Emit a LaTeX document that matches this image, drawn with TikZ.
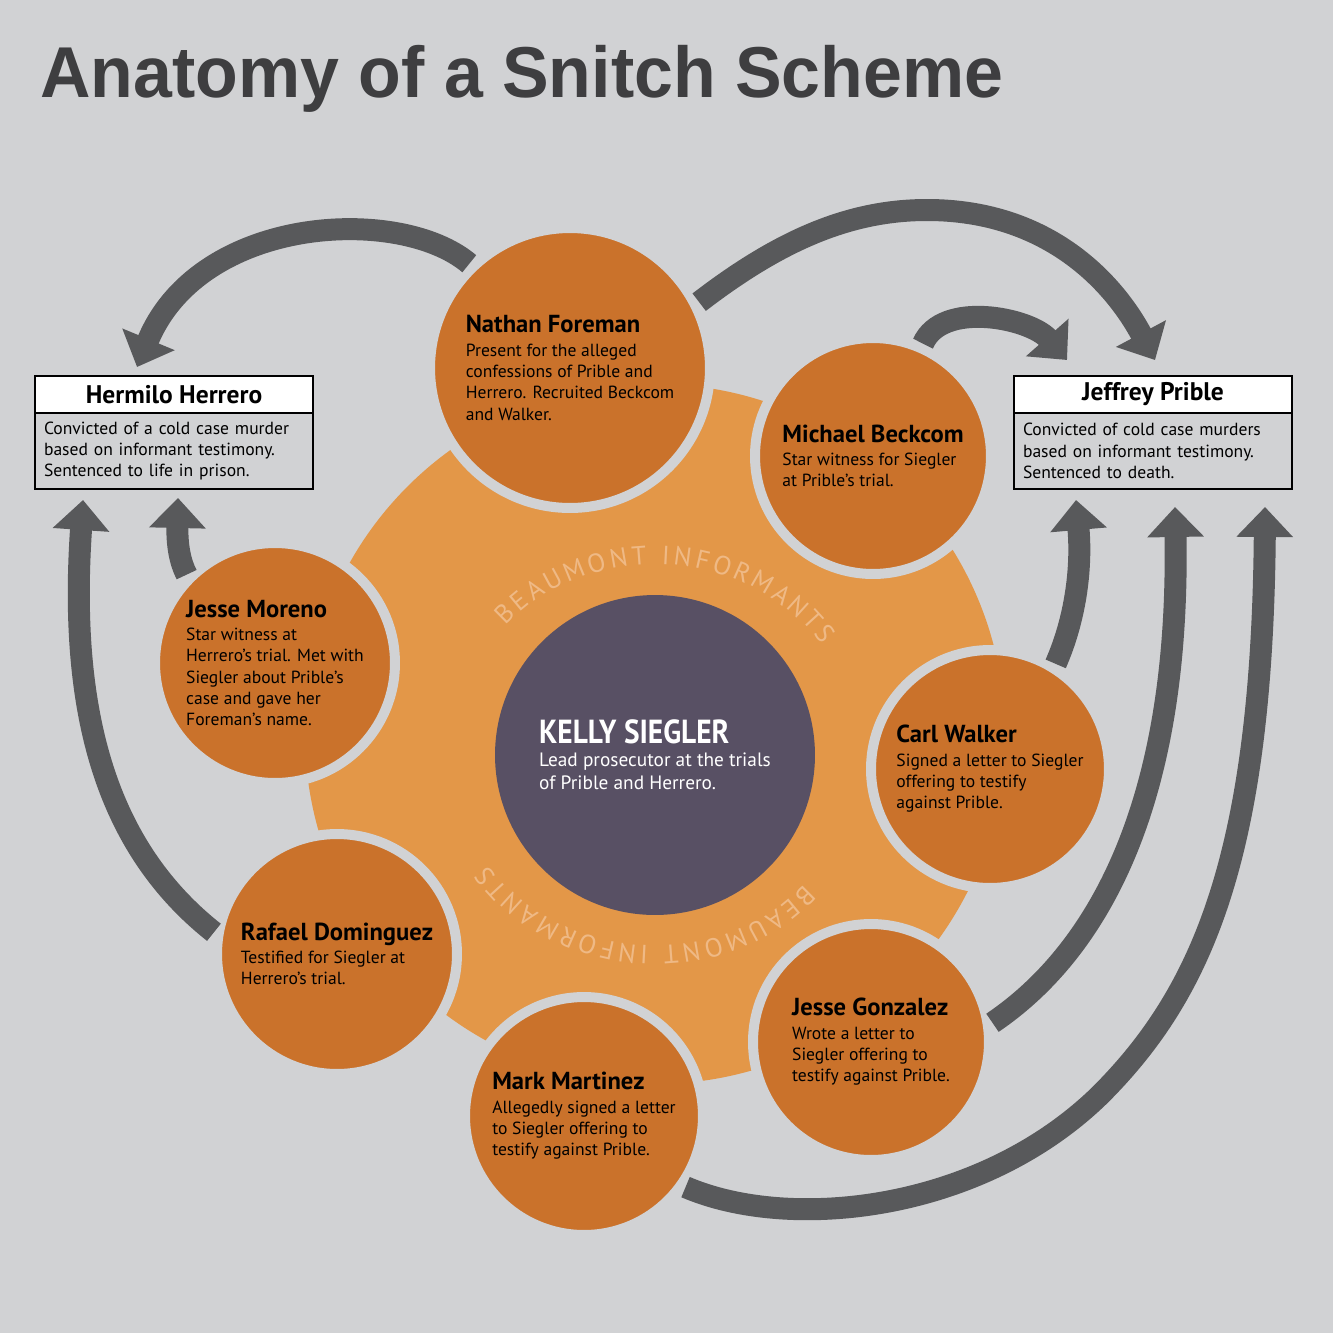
\documentclass[tikz,border=0pt]{standalone}
\usepackage{fontspec}
\setmainfont{PT Sans}
\newfontfamily\titlefont{Liberation Sans}
\usetikzlibrary{positioning,calc,arrows.meta}

\definecolor{paper}{HTML}{D1D2D4}
\definecolor{snitch}{HTML}{CA722B}
\definecolor{beaumont}{HTML}{E39748}
\definecolor{band}{HTML}{58595B}
\definecolor{kelly}{HTML}{585064}
\definecolor{titlegray}{HTML}{3E3E40}
\definecolor{ringtext}{HTML}{EFB985}

\newcommand{\bodysize}{\fontsize{10}{12.2}\selectfont}
\newcommand{\namesize}{\fontsize{14}{15}\selectfont\bfseries}
\newcommand{\who}[1]{{\namesize #1}\\[1pt]}

\begin{document}
\begin{tikzpicture}[x=0.02cm,y=-0.02cm,
  informant/.style={circle,fill=snitch,draw=paper,line width=0.2cm,inner sep=0pt,
    align=left,text=black,font=\bodysize},
  link/.style={draw=band,line width=0.44cm,-{Triangle[width=1.1cm,length=0.6cm]}},
  headbox/.style={draw=black,line width=0.03cm,fill=white,minimum width=5.56cm,
    minimum height=0.74cm,inner sep=0pt,outer sep=0pt,font=\fontsize{14.5}{15}\selectfont\bfseries},
  infobox/.style={draw=black,line width=0.03cm,minimum width=5.56cm,minimum height=1.52cm,
    text width=5.2cm,align=left,inner xsep=0.18cm,inner ysep=0pt,outer sep=0pt,font=\bodysize},
  ring/.style={text=ringtext,font=\fontsize{15}{15}\selectfont,inner sep=0pt}]

\fill[paper] (0,0) rectangle (1333,1333);

\node[anchor=base west,inner sep=0pt,text=titlegray,font=\titlefont\bfseries\fontsize{41}{41}\selectfont]
  (title) at (40,97) {\scalebox{0.97}[1]{Anatomy of a Snitch Scheme}};

\fill[beaumont] (655,734) circle[radius=350];

\node[circle,fill=kelly,minimum size=6.4cm,inner sep=0pt,align=left,text=white,
  font=\fontsize{11}{13}\selectfont] (siegler) at (655,755)
  {{\fontsize{19}{20}\selectfont\bfseries\scalebox{0.88}[1]{KELLY SIEGLER}}\\Lead prosecutor at the trials\\of Prible and Herrero.};

% beaumont informants, twice round the circle
\begin{scope}[shift={(655,755)}]
\foreach \s in {0,180}
  \foreach \ch/\a in {B/0,E/5.2,A/10.5,U/16.2,M/22.5,O/28.9,N/35.0,T/40.5,I/47.7,N/52.3,
      F/57.7,O/63.2,R/68.9,M/75.0,A/81.2,N/87.0,T/92.4,S/97.5} {
    \pgfmathsetmacro\ang{134.8-\a+\s}
    \pgfmathsetmacro\nang{-\ang}
    \node[ring,rotate=\ang-90] at (\nang:214 and 200) {\ch};
  }
\end{scope}

\node[informant,minimum size=5.6cm]  (foreman)   at (570,368)
  {\who{Nathan Foreman}Present for the alleged\\confessions of Prible and\\Herrero. Recruited Beckcom\\and Walker.};
\node[informant,minimum size=4.72cm] (beckcom)   at (873,456)
  {\who{Michael Beckcom}Star witness for Siegler\\at Prible’s trial.};
\node[informant,minimum size=4.8cm]  (moreno)    at (275,663)
  {\who{Jesse Moreno}Star witness at\\Herrero’s trial. Met with\\Siegler about Prible’s\\case and gave her\\Foreman’s name.};
\node[informant,minimum size=4.76cm] (walker)    at (990,769)
  {\who{Carl Walker}Signed a letter to Siegler\\offering to testify\\against Prible.};
\node[informant,minimum size=4.8cm]  (dominguez) at (337,954)
  {\who{Rafael Dominguez}Testified for Siegler at\\Herrero’s trial.};
\node[informant,minimum size=4.72cm] (gonzalez)  at (871,1042)
  {\who{Jesse Gonzalez}Wrote a letter to\\Siegler offering to\\testify against Prible.};
\node[informant,minimum size=4.76cm] (martinez)  at (584,1116)
  {\who{Mark Martinez}Allegedly signed a letter\\to Siegler offering to\\testify against Prible.};

\node[headbox] (herrero) at (174,394.5) {Hermilo Herrero};
\node[infobox,below=0pt of herrero] (herreroinfo)
  {Convicted of a cold case murder\\based on informant testimony.\\Sentenced to life in prison.};
\node[headbox] (prible) at (1153,394.5) {Jeffrey Prible};
\node[infobox,below=0pt of prible] (pribleinfo)
  {Convicted of cold case murders\\based on informant testimony.\\Sentenced to death.};

\draw[link] (foreman.134) .. controls (400,205) and (200,215) .. ($(herrero.north west)+(102,-9)$);
\draw[link] (foreman.27) .. controls (780,240) and (850,210) .. (927,210)
  .. controls (1050,210) and (1115,285) .. ($(prible.north west)+(141,-16)$);
\draw[link] (beckcom.66) .. controls (942,300) and (1030,318) .. ($(prible.north west)+(53,-16)$);
\draw[link] (moreno.135) .. controls (180,562) and (177,545) .. ($(herreroinfo.south west)+(143,9)$);
\draw[link] (dominguez.170) .. controls (110,850) and (68,720) .. ($(herreroinfo.south west)+(48,11)$);
\draw[link] (walker.58) .. controls (1075,620) and (1082,570) .. ($(pribleinfo.south west)+(62,11)$);
\draw[link] (gonzalez.9) .. controls (1100,950) and (1180,800) .. ($(pribleinfo.south west)+(161,18)$);
\draw[link] (martinez.-35) .. controls (790,1232) and (980,1212) .. (1100,1095)
  .. controls (1200,995) and (1262,860) .. ($(pribleinfo.south west)+(251,18)$);
\end{tikzpicture}
\end{document}
